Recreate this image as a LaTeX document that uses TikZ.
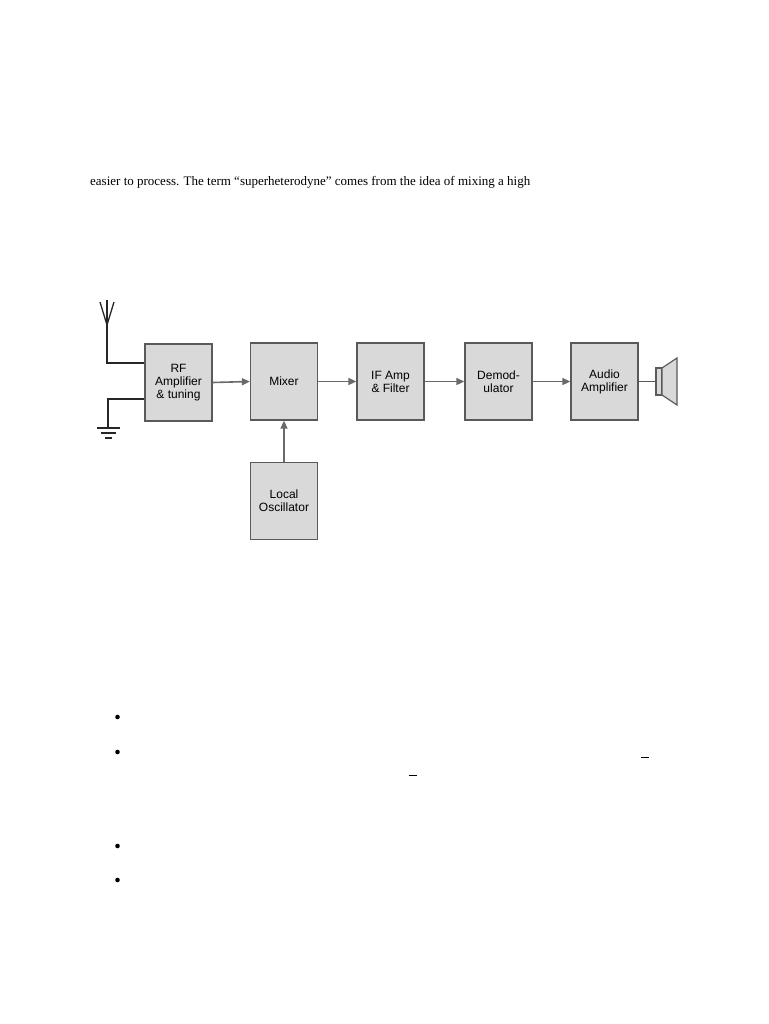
\documentclass[tikz,border=0pt]{standalone}
\usepackage{fontspec}
\setmainfont{Liberation Serif}
\newfontfamily\boxfont{Liberation Sans}
\usetikzlibrary{arrows.meta}
\definecolor{boxfill}{HTML}{D9D9D9}
\definecolor{boxline}{HTML}{5A5A5A}
\definecolor{arr}{HTML}{6A6A6A}
\begin{document}
\begin{tikzpicture}[x=1pt,y=-1pt,
  blk/.style={draw=boxline,fill=boxfill,line width=1.3pt,minimum width=67pt,minimum height=77pt,inner sep=1pt,align=center,font=\boxfont\fontsize{12}{13}\selectfont},
  flow/.style={draw=arr,line width=1.6pt,-{Triangle[length=8pt,width=7pt]}},
  wire/.style={draw=black!85,line width=1.3pt}]
\useasboundingbox (0,0) rectangle (768,1024);
\node[anchor=base west,font=\fontsize{13}{15}\selectfont,inner sep=0] (txt) at (90,186) {easier to process. The term “superheterodyne” comes from the idea of mixing a high};
\node[blk] (rf) at (178.5,382.5) {RF\\Amplifier\\\& tuning};
\node[blk] (mix) at (284,381.5) {Mixer};
\node[blk] (if) at (390.5,381.5) {IF Amp\\\& Filter};
\node[blk] (dem) at (498.5,381.5) {Demod-\\ulator};
\node[blk] (aud) at (604.5,381.5) {Audio\\Amplifier};
\node[blk] (lo) at (284,501) {Local\\Oscillator};
\draw[flow] (rf.east) -- (mix.west);
\draw[flow] (mix.east) -- (if.west);
\draw[flow] (if.east) -- (dem.west);
\draw[flow] (dem.east) -- (aud.west);
\draw[flow] (lo.north) -- (mix.south);
% antenna
\coordinate (ant) at (107,325);
\draw[wire] (rf.west |- 0,363) -- (107,363) -- (ant) -- (107,300);
\draw[wire] (100,302) -- (ant) -- (114,302);
% ground
\draw[wire] (rf.west |- 0,399) -- (108,399) -- (108,428);
\draw[wire] (97,428) -- (120,428);
\draw[wire] (101,433) -- (116,433);
\draw[wire] (105,438) -- (112,438);
% speaker
\draw[draw=boxline,line width=1.3pt] (aud.east) -- (656,381.5);
\draw[draw=boxline,fill=boxfill,line width=1.2pt] (656,368) rectangle (662,395);
\draw[draw=boxline,fill=boxfill,line width=1.2pt] (662,368) -- (677,358) -- (677,405) -- (662,395) -- cycle;
% bullets
\foreach \y in {717,752,846,880} \fill (117.5,\y) circle (2.3pt);
\draw[line width=0.8pt] (641,757) -- (649,757);
\draw[line width=0.8pt] (409,775) -- (417,775);
\end{tikzpicture}
\end{document}
